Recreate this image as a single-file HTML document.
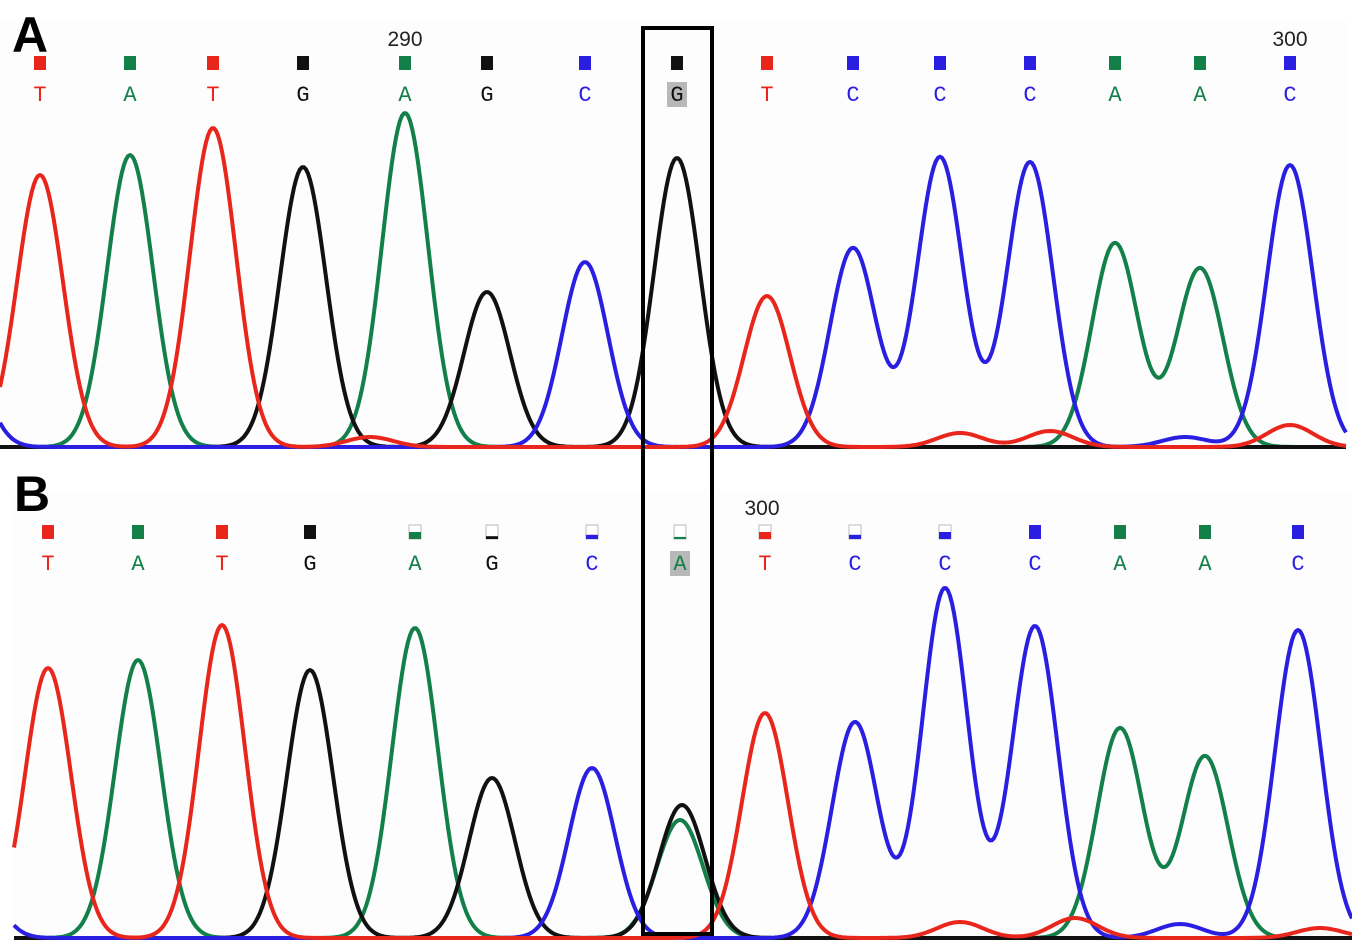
<!DOCTYPE html>
<html><head><meta charset="utf-8"><style>
html,body{margin:0;padding:0;background:#fff;}
svg{display:block;}
</style></head><body>
<svg id="c" width="1352" height="943" viewBox="0 0 1352 943">
<rect x="0" y="0" width="1352" height="943" fill="#ffffff"/>
<rect x="0" y="22" width="1348" height="430" fill="#fdfdfd"/>
<rect x="14" y="490" width="1338" height="452" fill="#fdfdfd"/>
<g id="gA"></g>
<g id="gB"></g>
<text x="12" y="52" font-size="50" font-weight="bold" font-family="Liberation Sans, sans-serif">A</text>
<text x="14" y="511" font-size="50" font-weight="bold" font-family="Liberation Sans, sans-serif">B</text>
<rect x="643" y="28" width="69" height="906" fill="none" stroke="#000" stroke-width="4"/>
</svg>
<script>
const colors={T:'#e8261c',A:'#13804a',G:'#111111',C:'#2a1ee0'};
// Panel A data
const basesA=['T','A','T','G','A','G','C','G','T','C','C','C','A','A','C'];
const posA=[40,130,213,303,405,487,585,677,767,853,940,1030,1115,1200,1290];
const heightsA=[272,292,319,280,334,155,185,289,151,199,290,285,204,179,282];
const qualA=[1,1,1,1,1,1,1,1,1,1,1,1,1,1,1];
const extraA=[{b:'C',x:-40,h:110},{b:'T',x:1290,h:22},{b:'T',x:960,h:14},{b:'T',x:1050,h:16},{b:'T',x:370,h:10},{b:'C',x:1185,h:10}];
const ticksA=[{label:'290',x:405},{label:'300',x:1290}];
// Panel B data
const basesB=['T','A','T','G','A','G','C','A','T','C','C','C','A','A','C'];
const posB=[48,138,222,310,415,492,592,680,765,855,945,1035,1120,1205,1298];
const heightsB=[270,278,313,268,310,160,170,118,225,216,350,312,210,182,308];
const qualB=[1,1,1,1,0.5,0.2,0.3,0.15,0.5,0.3,0.5,1,1,1,1];
const extraB=[{b:'C',x:-30,h:80},{b:'G',x:682,h:133},{b:'T',x:960,h:16},{b:'T',x:1075,h:20},{b:'C',x:1180,h:14},{b:'T',x:1320,h:10}];
const ticksB=[{label:'300',x:762}];

const NS='http://www.w3.org/2000/svg';
function mk(tag,attrs,parent){const e=document.createElementNS(NS,tag);for(const k in attrs)e.setAttribute(k,attrs[k]);parent.appendChild(e);return e;}

function drawPanel(g,bases,pos,heights,qual,extra,ticks,cfg){
  const sigma=23;
  const peaks=bases.map((b,i)=>({b:b,x:pos[i],h:heights[i]})).concat(extra);
  ['A','G','C','T'].forEach(ch=>{
    let d='';
    for(let x=cfg.x0;x<=cfg.x1;x+=2){
      let v=0;
      peaks.forEach(p=>{if(p.b===ch)v+=p.h*Math.exp(-((x-p.x)**2)/(2*sigma*sigma));});
      const y=cfg.base-v;
      d+=(d?'L':'M')+x+' '+y.toFixed(1);
    }
    const p=mk('path',{d:d,fill:'none',stroke:colors[ch],'stroke-width':4,'stroke-linejoin':'round'},g);
    
    
  });
  bases.forEach((b,i)=>{
    const x=pos[i];
    const sq=mk('rect',{x:x-6,y:cfg.sqY,width:12,height:14,fill:'#fff',stroke:qual[i]<1?'#bbb':'none','stroke-width':1},g);
    
    
    const fh=14*qual[i];
    const fq=mk('rect',{x:x-6,y:cfg.sqY+14-fh,width:12,height:fh,fill:colors[b]},g);
    
    
    if(i===7){
      const hl=mk('rect',{x:x-10,y:cfg.lY-19,width:20,height:25,fill:'#b8b8b8'},g);
      
      
    }
    const t=mk('text',{x:x,y:cfg.lY,'text-anchor':'middle',fill:colors[b],'font-family':'Liberation Mono, DejaVu Sans Mono, monospace','font-size':22},g);
    t.textContent=b;
    
    
  });
  ticks.forEach(tk=>{
    const t=mk('text',{x:tk.x,y:cfg.tY,'text-anchor':'middle','font-size':21,fill:'#222','font-family':'Liberation Sans, sans-serif'},g);
    t.textContent=tk.label;
    
    
  });
}
drawPanel(document.getElementById('gA'),basesA,posA,heightsA,qualA,extraA,ticksA,{x0:0,x1:1346,base:447,sqY:56,lY:101,tY:46});
drawPanel(document.getElementById('gB'),basesB,posB,heightsB,qualB,extraB,ticksB,{x0:14,x1:1352,base:938,sqY:525,lY:570,tY:515});
</script>
</body></html>
